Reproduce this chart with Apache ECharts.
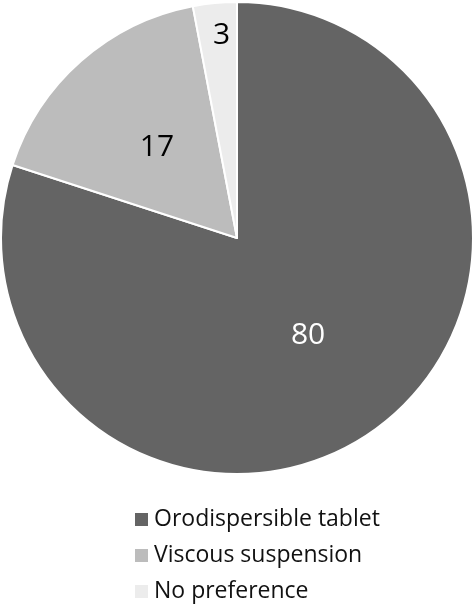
<!DOCTYPE html><html><head><meta charset="utf-8"><script src="https://cdn.jsdelivr.net/npm/echarts@6/dist/echarts.min.js"></script>
<style>html,body{margin:0;background:#fff}#c{width:474px;height:616px}</style></head><body><div id="c"></div><script>
const categories=['Orodispersible tablet','Viscous suspension','No preference'];
const values=[80,17,3];
const colors=['#646464','#bcbcbc','#ececec'];
const labelColors=['#fff','#000','#000'];
const chart=echarts.init(document.getElementById('c'));
chart.setOption({
 animation:false,
 legend:{orient:'vertical',left:128,top:503,itemWidth:15,itemHeight:15,itemGap:13,icon:'rect',
  textStyle:{fontFamily:'Open Sans',fontSize:23,color:'#111'},data:categories},
 series:[{type:'pie',center:[237,238],radius:[0,236],startAngle:90,clockwise:true,
  itemStyle:{borderColor:'#fff',borderWidth:2},labelLine:{show:false},
  data:categories.map((n,i)=>({name:n,value:values[i],itemStyle:{color:colors[i]},
   label:{show:true,position:'inside',formatter:'{c}',color:labelColors[i],fontFamily:'Open Sans',fontSize:30,
    offset:i===2?[-4,-82]:[0,0]}}))}]
});
</script></body></html>
